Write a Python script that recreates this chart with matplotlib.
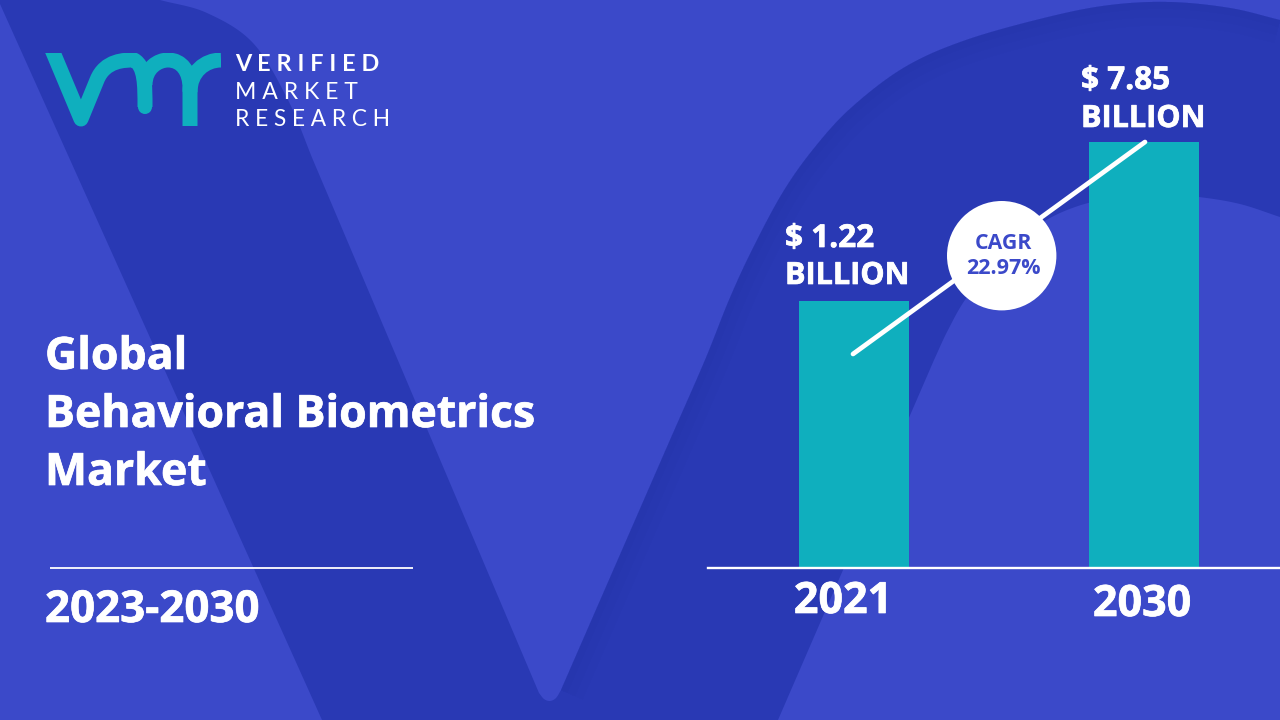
import numpy as np
import matplotlib
matplotlib.use("Agg")
import matplotlib.pyplot as plt
import matplotlib.patheffects as pe
from matplotlib.path import Path
from matplotlib.patches import PathPatch, Circle, Rectangle

# ---- data ----
years = ["2021", "2030"]
bar_levels = [267, 426]
value_labels = ["$ 1.22\nBILLION", "$ 7.85\nBILLION"]
cagr_label = "CAGR"
cagr_value = "22.97%"
title_lines = ["Global", "Behavioral Biometrics", "Market"]
period = "2023-2030"
logo_lines = ["VERIFIED", "MARKET", "RESEARCH"]

BG = "#3B49C9"
DARK = "#2939B4"
TEAL = "#0FAFBE"
FONT = "Open Sans"
W, H = 1280, 720


def spline(pts, n=24):
    p = np.array(pts, float)
    p = np.vstack([2 * p[0] - p[1], p, 2 * p[-1] - p[-2]])
    out = []
    for i in range(1, len(p) - 2):
        t = np.linspace(0, 1, n, endpoint=False)[:, None]
        a, b, c, d = p[i - 1], p[i], p[i + 1], p[i + 2]
        out.append(0.5 * (2 * b + (c - a) * t + (2 * a - 5 * b + 4 * c - d) * t ** 2
                          + (3 * b - a - 3 * c + d) * t ** 3))
    out.append(p[-2][None, :])
    return np.vstack(out)


fig = plt.figure(figsize=(12.8, 7.2), dpi=100, facecolor=BG)
bg = fig.add_axes([0, 0, 1, 1])
bg.set_xlim(0, W)
bg.set_ylim(H, 0)
bg.axis("off")

# ---- background "V" ----
inner_curve = spline([(934, 360), (948, 330), (967, 297), (1000, 257), (1040, 224), (1078, 206),
                      (1120, 197), (1160, 194), (1199, 197), (1240, 204), (1280, 217)])
outer_curve = spline([(1280, 20), (1230, 8), (1170, 2), (1110, 5), (1048, 17), (966, 40), (905, 67),
                      (852, 107), (815, 147), (783, 192), (752, 250), (729, 300), (705, 360), (670, 440)])
tip = spline([(539, 693), (544, 699), (550, 701), (556, 698), (561, 690)][::-1], 8)
left_top = spline([(313, 160), (288, 100), (253, 43), (207, 13), (160, 0)])
verts = np.vstack([[(0, 0), (0, 4), (322, 720), (778, 720)], inner_curve, outer_curve, tip, left_top, [(0, 0)]])
dark = PathPatch(Path(verts), fc=DARK, ec="none", zorder=1)
bg.add_patch(dark)

# soft shading along the inner edge of the right arm
edge = np.vstack([outer_curve, [(561, 690)]])
for lw, a in [(34, 0.035), (22, 0.04), (10, 0.05)]:
    s = bg.plot(edge[:, 0], edge[:, 1], color="#1B2A90", lw=lw, alpha=a, zorder=1.1,
                solid_capstyle="butt")[0]
    s.set_clip_path(dark)

# ---- bars ----
px_per_step = 289.5
ax = fig.add_axes([708 / W, 1 - 568 / H, (W - 708) / W, 568 / H], facecolor="none", zorder=2)
ax.set_xlim((708 - 854) / px_per_step, (W - 854) / px_per_step)
ax.set_ylim(0, 568)
x = np.arange(len(years))
ax.bar(x, bar_levels, width=110 / px_per_step, color=TEAL, zorder=2)
for side in ("left", "right", "top"):
    ax.spines[side].set_visible(False)
ax.spines["bottom"].set_color("white")
ax.spines["bottom"].set_linewidth(1.7)
ax.set_yticks([])
ax.set_xticks([])

# ---- overlay ----
ov = fig.add_axes([0, 0, 1, 1], facecolor="none", zorder=3)
ov.set_xlim(0, W)
ov.set_ylim(H, 0)
ov.axis("off")

heavy = [pe.withStroke(linewidth=0.5, foreground="white")]


def label(xp, yp, s, size, ha="left"):
    ov.text(xp, yp, s, fontsize=size, color="white", ha=ha, va="baseline",
            fontweight="bold", family=FONT, path_effects=heavy)


# trend line + CAGR badge
ov.plot([853, 1145], [354, 142], color="white", lw=3.4, solid_capstyle="round", zorder=4)
ov.add_patch(Circle((1001.7, 255.7), 54.7, fc="white", ec="none", zorder=5))
ov.text(1003, 249, cagr_label, fontsize=15.3, color=BG, ha="center", va="baseline",
        fontweight="bold", family=FONT, zorder=6)
ov.text(1003, 274, cagr_value, fontsize=15.5, color=BG, ha="center", va="baseline",
        fontweight="bold", family=FONT, zorder=6)

# value labels
for (xp, y1, y2), s in zip([(785, 247, 284), (1081, 89, 127)], value_labels):
    a, b = s.split("\n")
    label(xp, y1, a, 22.7)
    label(xp, y2, b, 22)

# years
label(843, 613, years[0], 31, ha="center")
label(1142, 616, years[1], 31, ha="center")

# title
for yp, s in zip([369, 427, 485], title_lines):
    label(45, yp, s, 32.1)
ov.plot([50, 413], [568, 568], color="white", lw=1.3, solid_capstyle="butt")
label(45, 622, period, 31.6)

# logo mark
M, L, C = Path.MOVETO, Path.LINETO, Path.CURVE4
lw = 10.8
v_stroke = Path([(50, 45), (81, 119), (97, 80), (105, 60), (125, 60), (134, 60), (145, 66), (145, 85), (145, 107)],
                [M, L, L, C, C, C, C, C, L])
stem2 = Path([(145, 85), (145, 68), (158, 60), (168, 60), (182, 60), (190, 72), (190, 88), (190, 126)],
             [M, C, C, C, C, C, C, L])
arm = Path([(190, 92), (190, 72), (205, 60), (221, 60)], [M, C, C, C])
clip = Rectangle((40, 53), 181, 73.5, transform=ov.transData)
for p in (v_stroke, stem2, arm):
    mark = PathPatch(p, fc="none", ec=TEAL, lw=lw, capstyle="butt", joinstyle="round", zorder=4)
    ov.add_patch(mark)
    mark.set_clip_path(clip)
ov.add_patch(Circle((145, 107), 7, fc=TEAL, ec="none", zorder=4))

# logo text (letter-spaced)
gap = "\u2009\u200a\u200a"
fam = ["Lato", "DejaVu Sans"]
for yp, s, w, fs in zip([71, 99, 126], logo_lines, ["bold", "normal", "normal"], [16.8, 16.6, 16.4]):
    t = ov.text(235, yp, gap.join(s), fontsize=fs, color="white", ha="left", va="baseline",
                fontweight=w, family=fam)

fig.savefig("out.png", dpi=100, facecolor=BG)
